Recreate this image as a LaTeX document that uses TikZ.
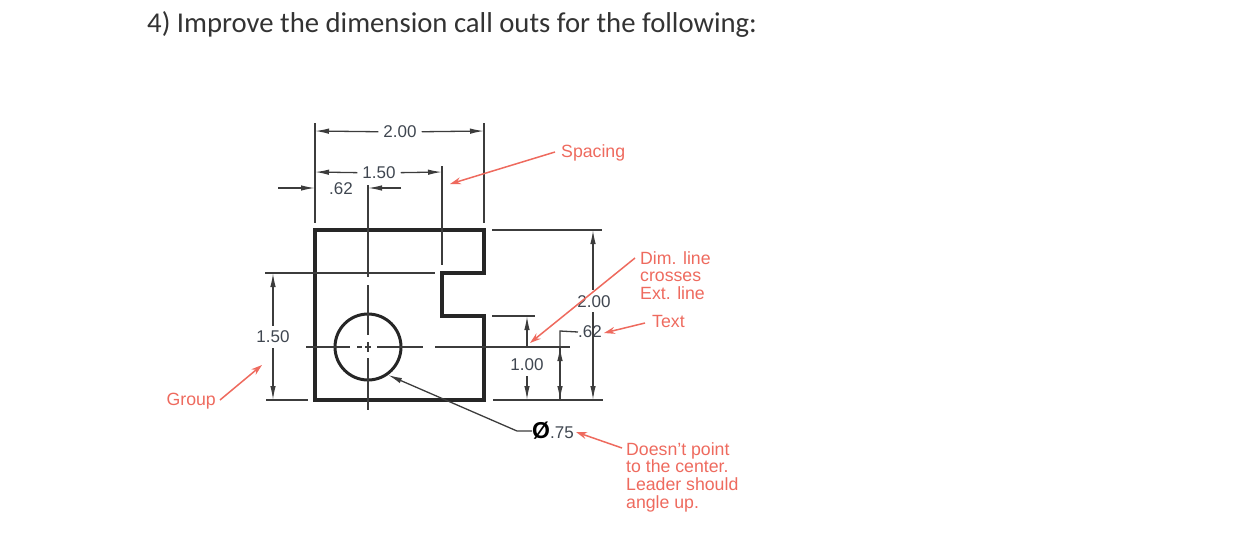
\documentclass[tikz,border=0pt]{standalone}
\usepackage{fontspec}
\setmainfont{Liberation Sans}
\newfontfamily\titlefont{Carlito}
\usetikzlibrary{arrows.meta}
\definecolor{dimgray}{HTML}{3C3C3C}
\definecolor{dimtext}{HTML}{3F4650}
\definecolor{callred}{HTML}{EE6A5E}
\tikzset{
  outline/.style={line width=3.2pt,black!85},
  thin line/.style={line width=1.3pt,dimgray},
  dim line/.style={thin line,-{Latex[length=14pt,width=5.5pt]}},
  dimtxt/.style={text=dimtext,font=\fontsize{17}{18}\selectfont,inner sep=5pt},
  calltxt/.style={text=callred,font=\fontsize{17.7}{17.7}\selectfont,inner sep=0pt,align=left},
  call arrow/.style={line width=1.5pt,callred,-{Stealth[length=11pt,width=7pt]}}
}
\begin{document}
\begin{tikzpicture}[x=1pt,y=-1pt]
  \useasboundingbox (0,0) rectangle (1242,552);
  \node[anchor=west,inner sep=0pt,text=black!80,font=\titlefont\fontsize{28.7}{30}\selectfont] (title) at (147,24)
    {4) Improve the dimension call outs for the following:};
  % part
  \draw[outline] (315,230) -- (484,230) -- (484,273) -- (442,273) -- (442,316)
    -- (484,316) -- (484,400) -- (315,400) -- cycle;
  \draw[line width=3pt,black!85] (368,347) circle (33);
  % center lines
  \begin{scope}[thin line]
    \draw (306,347) -- (350,347);
    \draw (357,347) -- (362,347);
    \draw (365,347) -- (371,347);
    \draw (377,347) -- (423,347);
    \draw (435,347) -- (570,347);
    \draw (368,185) -- (368,277);
    \draw (368,285) -- (368,335);
    \draw (368,342) -- (368,352);
    \draw (368,358) -- (368,410);
  \end{scope}
  % extension lines
  \begin{scope}[thin line]
    \draw (315,123) -- (315,223);
    \draw (484,123) -- (484,223);
    \draw (442,166) -- (442,265);
    \draw (265,273) -- (435,273);
    \draw (266,400) -- (308,400);
    \draw (492,230) -- (602,230);
    \draw (492,316) -- (535,316);
    \draw (493,400) -- (603,400);
  \end{scope}
  % dimension labels
  \node[dimtxt] (top200) at (400,132) {2.00};
  \node[dimtxt] (top150) at (379,173) {1.50};
  \node[dimtxt,inner sep=0pt] (top62) at (341,189) {.62};
  \node[dimtxt] (left150) at (273,337) {1.50};
  \node[dimtxt] (right100) at (527,365) {1.00};
  \node[dimtxt,inner sep=0pt] (right200) at (594,302) {2.00};
  \node[dimtxt,inner sep=0pt] (right62) at (590,332) {.62};
  \node[dimtxt,anchor=west,inner sep=0pt] (dia75) at (532,431)
    {\textcolor{black}{\fontsize{23}{23}\selectfont\bfseries Ø}.75};
  % dimension lines
  \coordinate (a1) at (315,131);
  \coordinate (a2) at (484,131);
  \coordinate (b1) at (315,172);
  \coordinate (b2) at (442,172);
  \coordinate (c1) at (278,188);
  \coordinate (c2) at (315,188);
  \coordinate (c3) at (401,188);
  \coordinate (c4) at (368,188);
  \coordinate (d1) at (273,273);
  \coordinate (d2) at (273,400);
  \coordinate (e1) at (527,316);
  \coordinate (e2) at (527,347);
  \coordinate (e3) at (527,400);
  \coordinate (f1) at (560,347);
  \coordinate (f2) at (560,400);
  \coordinate (f3) at (560,331);
  \coordinate (g1) at (593,230);
  \coordinate (g2) at (593,400);
  \coordinate (g3) at (593,290);
  \coordinate (g4) at (593,312);
  \coordinate (h1) at (388,375);
  \coordinate (h2) at (517,431);
  \draw[dim line] (top200) -- (a1);
  \draw[dim line] (top200) -- (a2);
  \draw[dim line] (top150) -- (b1);
  \draw[dim line] (top150) -- (b2);
  \draw[dim line] (c1) -- (c2);
  \draw[dim line] (c3) -- (c4);
  \draw[dim line] (left150) -- (d1);
  \draw[dim line] (left150) -- (d2);
  \draw[dim line] (e2) -- (e1);
  \draw[dim line] (right100) -- (e3);
  \draw[dim line] (f2) -- (f1);
  \draw[dim line] (f1) -- (f2);
  \draw[thin line] (f1) -- (f3) -- (right62.west);
  \draw[dim line] (g3) -- (g1);
  \draw[dim line] (g4) -- (g2);
  \draw[dim line] (dia75.west) -- (h2) -- (h1);
  % red remarks
  \node[calltxt,anchor=west] (spacing) at (561,153) {Spacing};
  \node[calltxt,anchor=east] (group) at (216,401) {Group};
  \node[calltxt,anchor=north west] (crosses) at (640,251) {Dim. line\\crosses\\Ext. line};
  \node[calltxt,anchor=west] (texttag) at (652,321) {Text};
  \node[calltxt,anchor=north west] (center) at (626,442) {Doesn't point\\to the center.\\Leader should\\angle up.};
  \coordinate (spacingfrom) at (555,152);
  \coordinate (spacingtip) at (450,184);
  \coordinate (groupfrom) at (220,400);
  \coordinate (grouptip) at (262,365);
  \coordinate (crossesfrom) at (635,258);
  \coordinate (crossestip) at (530,343);
  \coordinate (textfrom) at (645,323);
  \coordinate (texttip) at (604,333);
  \coordinate (centerfrom) at (622,448);
  \coordinate (centertip) at (576,432);
  \draw[call arrow] (spacingfrom) -- (spacingtip);
  \draw[call arrow] (groupfrom) -- (grouptip);
  \draw[call arrow] (crossesfrom) -- (crossestip);
  \draw[call arrow] (textfrom) -- (texttip);
  \draw[call arrow] (centerfrom) -- (centertip);
\end{tikzpicture}
\end{document}
